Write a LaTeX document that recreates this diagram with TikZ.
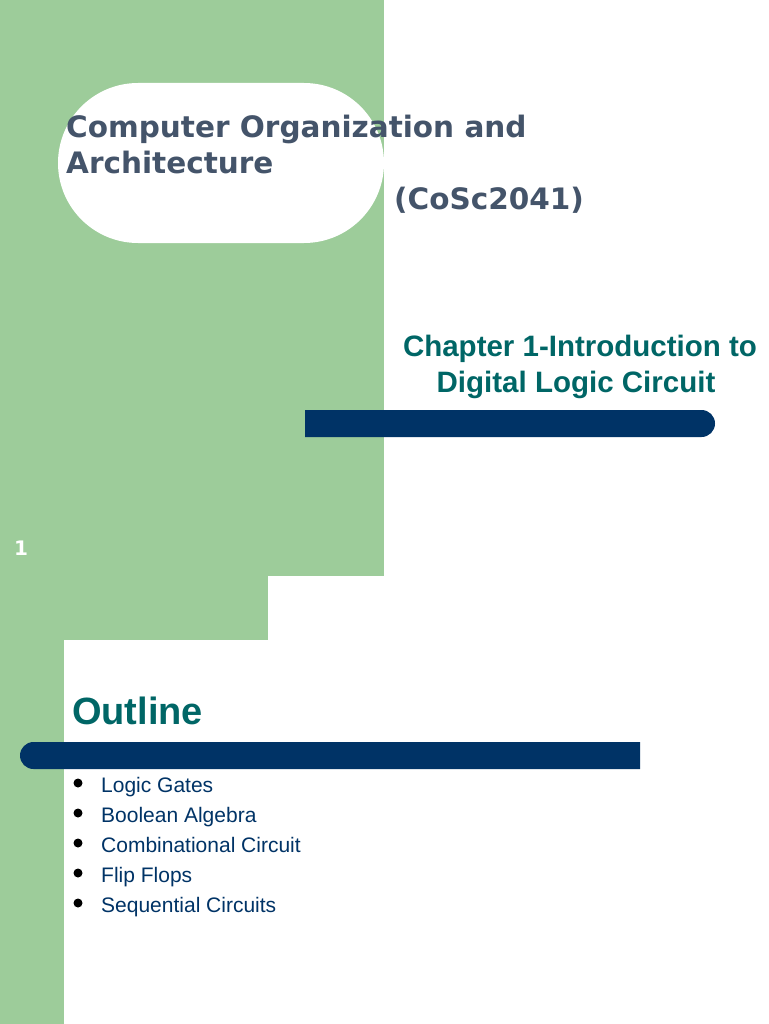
\documentclass[tikz,border=0pt]{standalone}
\usepackage{fontspec}
\setmainfont{Liberation Sans}
\newfontfamily\dvs{DejaVu Sans}
\definecolor{grn}{HTML}{9DCC9A}
\definecolor{navy}{HTML}{003366}
\definecolor{slate}{HTML}{44546A}
\definecolor{teal2}{HTML}{006666}
\begin{document}
\begin{tikzpicture}[x=1pt,y=-1pt,
  ttl/.style={anchor=base west,inner sep=0,font=\dvs\bfseries\fontsize{29.5}{34}\selectfont,text=slate},
  chap/.style={anchor=base,inner sep=0,font=\bfseries\fontsize{29.5}{34}\selectfont,text=teal2},
  itm/.style={anchor=base west,inner sep=0,font=\fontsize{21}{24}\selectfont,text=navy}]
\useasboundingbox (0,0) rectangle (768,1024);
\fill[white] (0,0) rectangle (768,1024);
% slide 1 green
\fill[grn] (0,0) rectangle (384,576);
\fill[white,rounded corners=80] (384,83) -- (58,83) -- (58,243) -- (384,243) -- cycle;
% slide 2 green
\fill[grn] (0,576) rectangle (268,640);
\fill[grn] (0,640) rectangle (64,1024);
\fill[white] (64,1024) [rounded corners=20] -- (64,640) [sharp corners] -- (268,640) -- (268,1024) -- cycle;
% bars
\fill[navy] (305,410) [rounded corners=13.5] -- (715,410) -- (715,437) [sharp corners] -- (305,437) -- cycle;
\fill[navy] (640,742) [rounded corners=13.5] -- (20,742) -- (20,769) [sharp corners] -- (640,769) -- cycle;
% texts
\node[ttl] (t1) at (66,138) {Computer Organization and};
\node[ttl] (t2) at (66,174) {Architecture};
\node[ttl] (t3) at (394,210) {(CoSc2041)};
\node[chap] (c1) at (580,356) {Chapter 1-Introduction to};
\node[chap] (c2) at (576,392) {Digital Logic Circuit};
\node[anchor=base west,inner sep=0,font=\dvs\bfseries\fontsize{20}{24}\selectfont,text=white] (n1) at (14,555) {1};
\node[anchor=base west,inner sep=0,font=\bfseries\fontsize{38}{42}\selectfont,text=teal2] (o) at (72,724) {Outline};
\foreach \t [count=\i] in {Logic Gates,Boolean Algebra,Combinational Circuit,Flip Flops,Sequential Circuits}{
  \fill (78,{785+30*(\i-1)-2}) circle (4.5);
  \node[itm] (b\i) at (101,{792+30*(\i-1)}) {\t};
}
\end{tikzpicture}
\end{document}
